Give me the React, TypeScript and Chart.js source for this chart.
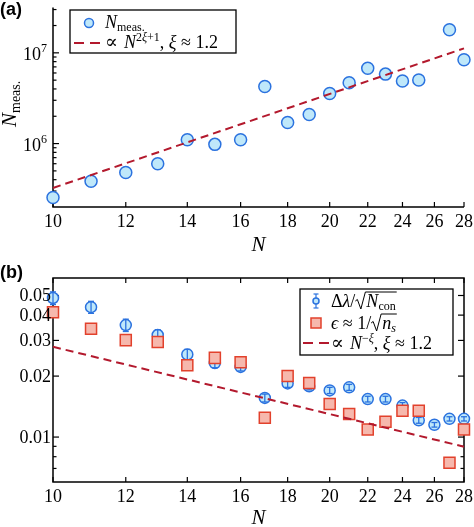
import { useEffect, useRef } from "react";
import { Chart, registerables } from "chart.js";

Chart.register(...registerables);

const W = 474;
const H = 527;
const SERIF = '"Liberation Serif", "DejaVu Serif", serif';
const SANS = '"Liberation Sans", Arial, sans-serif';

const BLUE_EDGE = "#2b72df";
const BLUE_FILL = "#bfe8fa";
const RED_EDGE = "#e2412c";
const RED_FILL = "#f6b8ad";
const FIT_COLOR = "#b3192d";

// ---- panel (a): number of measurements vs system size ----
const N_A = [10, 11, 12, 13, 14, 15, 16, 17, 18, 19, 20, 21, 22, 23, 24, 25, 27, 28];
const N_MEAS = [
  2.54e5, 3.85e5, 4.8e5, 6.0e5, 1.1e6, 9.8e5, 1.1e6, 4.25e6, 1.71e6, 2.09e6,
  3.57e6, 4.68e6, 6.76e6, 5.83e6, 4.9e6, 5.03e6, 1.8e7, 8.4e6,
];
const FIT_N = [10, 28];
const FIT_A = [3.24e5, 1.12e7];
const X_TICKS = [10, 12, 14, 16, 18, 20, 22, 24, 26, 28];
const Y_MAJOR_A = [1e6, 1e7];
const Y_EXP_A = ["6", "7"];
const Y_MINOR_A = [
  3e5, 4e5, 5e5, 6e5, 7e5, 8e5, 9e5, 2e6, 3e6, 4e6, 5e6, 6e6, 7e6, 8e6, 9e6, 2e7, 3e7,
];

// ---- panel (b): errors vs system size ----
const N_B = [10, 11, 12, 13, 14, 15, 16, 17, 18, 19, 20, 21, 22, 23, 24, 25, 26, 27, 28];
const DL = [
  0.0486, 0.0438, 0.0357, 0.0319, 0.0256, 0.0232, 0.0222, 0.0156, 0.0184, 0.0178,
  0.017, 0.0176, 0.0154, 0.0154, 0.0143, 0.0121, 0.0115, 0.0123, 0.0123,
];
const DL_ERR = [
  0.0035, 0.003, 0.0025, 0.002, 0.0015, 0.0012, 0.001, 0.0007, 0.0008, 0.0007,
  0.0006, 0.0006, 0.0005, 0.0005, 0.0005, 0.0004, 0.0003, 0.0003, 0.0003,
];
const N_EPS = [10, 11, 12, 13, 14, 15, 16, 17, 18, 19, 20, 21, 22, 23, 24, 25, 27, 28];
const EPS = [
  0.0413, 0.0343, 0.0301, 0.0295, 0.0226, 0.0246, 0.0234, 0.01245, 0.02, 0.0185,
  0.01455, 0.013, 0.0109, 0.0119, 0.0135, 0.0135, 0.00747, 0.0109,
];
const FIT_B = [0.0279, 0.00896];
const Y_LABELS_B = [0.01, 0.02, 0.03, 0.04, 0.05];
const Y_MINOR_B = [0.007, 0.008, 0.009];

type Run = { t: string; it?: boolean; sz?: number; dy?: number; fam?: string };

function runFont(r: Run) {
  return `${r.it ? "italic " : ""}${r.sz ?? 18}px ${r.fam ?? SERIF}`;
}

function runsWidth(ctx: CanvasRenderingContext2D, runs: Run[]) {
  let w = 0;
  for (const r of runs) {
    ctx.font = runFont(r);
    w += ctx.measureText(r.t).width;
  }
  return w;
}

function drawRuns(ctx: CanvasRenderingContext2D, x: number, y: number, runs: Run[]) {
  let cx = x;
  ctx.textAlign = "left";
  ctx.textBaseline = "alphabetic";
  for (const r of runs) {
    ctx.font = runFont(r);
    ctx.fillText(r.t, cx, y + (r.dy ?? 0));
    cx += ctx.measureText(r.t).width;
  }
  return cx;
}

function drawSqrt(ctx: CanvasRenderingContext2D, x: number, y: number, runs: Run[]) {
  const w = runsWidth(ctx, runs);
  ctx.save();
  ctx.lineWidth = 1;
  ctx.strokeStyle = "#000";
  ctx.beginPath();
  ctx.moveTo(x, y - 6);
  ctx.lineTo(x + 2, y - 7.5);
  ctx.lineTo(x + 5.5, y + 2);
  ctx.lineTo(x + 10, y - 15);
  ctx.lineTo(x + 12 + w, y - 15);
  ctx.stroke();
  ctx.restore();
  return drawRuns(ctx, x + 11, y, runs);
}

// two-dash legend sample of the fit line
function dash(ctx: CanvasRenderingContext2D, x0: number, y: number) {
  ctx.save();
  ctx.strokeStyle = FIT_COLOR;
  ctx.lineWidth = 2;
  ctx.setLineDash([10, 6]);
  ctx.beginPath();
  ctx.moveTo(x0, y);
  ctx.lineTo(x0 + 26, y);
  ctx.stroke();
  ctx.restore();
}

function circle(ctx: CanvasRenderingContext2D, x: number, y: number, r: number) {
  ctx.beginPath();
  ctx.arc(x, y, r, 0, Math.PI * 2);
  ctx.fillStyle = BLUE_FILL;
  ctx.fill();
  ctx.strokeStyle = BLUE_EDGE;
  ctx.lineWidth = 1.5;
  ctx.stroke();
}

function xTickLabels(ctx: CanvasRenderingContext2D, chart: any) {
  const x = chart.scales.x;
  const a = chart.chartArea;
  ctx.fillStyle = "#000";
  ctx.font = `18px ${SERIF}`;
  ctx.textAlign = "center";
  ctx.textBaseline = "alphabetic";
  for (const v of X_TICKS) ctx.fillText(String(v), x.getPixelForValue(v), a.bottom + 20);
}

function tick(ctx: CanvasRenderingContext2D, x0: number, y0: number, x1: number, y1: number) {
  ctx.beginPath();
  ctx.moveTo(x0, y0);
  ctx.lineTo(x1, y1);
  ctx.stroke();
}

const PROP = { t: "∝ ", sz: 19, fam: '"DejaVu Serif", serif' };

const axesA = {
  id: "axesA",
  beforeDatasetsDraw(chart: any) {
    const { ctx, chartArea: a, scales } = chart;
    const { x, y } = scales;
    ctx.save();
    ctx.strokeStyle = "#000";
    ctx.lineWidth = 1.5;
    ctx.beginPath();
    ctx.moveTo(a.left, a.top);
    ctx.lineTo(a.left, a.bottom);
    ctx.lineTo(a.right, a.bottom);
    ctx.stroke();
    ctx.lineWidth = 1.2;
    for (const v of X_TICKS) {
      const px = x.getPixelForValue(v);
      tick(ctx, px, a.bottom, px, a.bottom - 5);
    }
    for (const v of Y_MAJOR_A) {
      const py = y.getPixelForValue(v);
      tick(ctx, a.left, py, a.left + 6, py);
    }
    for (const v of Y_MINOR_A) {
      const py = y.getPixelForValue(v);
      tick(ctx, a.left, py, a.left + 3.5, py);
    }
    ctx.restore();
  },
  afterDraw(chart: any) {
    const { ctx, chartArea: a, scales } = chart;
    const { y } = scales;
    ctx.save();
    xTickLabels(ctx, chart);
    // y tick labels as powers of ten
    Y_MAJOR_A.forEach((v, i) => {
      const py = y.getPixelForValue(v);
      ctx.font = `12px ${SERIF}`;
      const ew = ctx.measureText(Y_EXP_A[i]).width;
      ctx.font = `18px ${SERIF}`;
      const bw = ctx.measureText("10").width;
      const right = a.left - 6;
      ctx.textAlign = "left";
      ctx.fillText("10", right - ew - bw, py + 7);
      ctx.font = `12px ${SERIF}`;
      ctx.fillText(Y_EXP_A[i], right - ew, py - 1);
    });
    // axis titles
    ctx.font = `italic 21px ${SERIF}`;
    ctx.textAlign = "center";
    ctx.fillText("N", (a.left + a.right) / 2, 251);
    ctx.save();
    ctx.translate(16, 127);
    ctx.rotate(-Math.PI / 2);
    drawRuns(ctx, 0, 0, [
      { t: "N", it: true, sz: 21 },
      { t: "meas.", sz: 14, dy: 4 },
    ]);
    ctx.restore();
    // panel tag
    ctx.font = `bold 18px ${SANS}`;
    ctx.textAlign = "left";
    ctx.fillText("(a)", 0, 15);
    // legend
    ctx.fillStyle = "#fff";
    ctx.fillRect(70, 10, 166, 43);
    ctx.strokeStyle = "#000";
    ctx.lineWidth = 1.3;
    ctx.strokeRect(70, 10, 166, 43);
    circle(ctx, 89, 23, 4.5);
    ctx.fillStyle = "#000";
    drawRuns(ctx, 105, 28, [
      { t: "N", it: true },
      { t: "meas.", sz: 12, dy: 3 },
    ]);
    dash(ctx, 74, 43);
    ctx.fillStyle = "#000";
    drawRuns(ctx, 105, 48, [
      PROP,
      { t: "N", it: true },
      { t: "2", sz: 12, dy: -7 },
      { t: "ξ", it: true, sz: 12, dy: -7 },
      { t: "+1", sz: 12, dy: -7 },
      { t: ", " },
      { t: "ξ", it: true },
      { t: " ≈ 1.2" },
    ]);
    ctx.restore();
  },
};

const axesB = {
  id: "axesB",
  beforeDatasetsDraw(chart: any) {
    const { ctx, chartArea: a, scales } = chart;
    const { x, y } = scales;
    ctx.save();
    ctx.strokeStyle = "#000";
    ctx.lineWidth = 1.5;
    ctx.strokeRect(a.left, a.top, a.right - a.left, a.bottom - a.top);
    ctx.lineWidth = 1.2;
    for (const v of X_TICKS) {
      const px = x.getPixelForValue(v);
      tick(ctx, px, a.bottom, px, a.bottom - 5);
      tick(ctx, px, a.top, px, a.top + 5);
    }
    for (const v of Y_LABELS_B) {
      const py = y.getPixelForValue(v);
      tick(ctx, a.left, py, a.left + 6, py);
      tick(ctx, a.right, py, a.right - 6, py);
    }
    for (const v of Y_MINOR_B) {
      const py = y.getPixelForValue(v);
      tick(ctx, a.left, py, a.left + 3.5, py);
      tick(ctx, a.right, py, a.right - 3.5, py);
    }
    ctx.restore();
  },
  afterDatasetDraw(chart: any, args: any) {
    if (args.index !== 1) return;
    const { ctx, scales } = chart;
    const { x, y } = scales;
    ctx.save();
    ctx.strokeStyle = BLUE_EDGE;
    ctx.lineWidth = 1.3;
    N_B.forEach((n, i) => {
      const px = x.getPixelForValue(n);
      const top = y.getPixelForValue(DL[i] + DL_ERR[i]);
      const bot = y.getPixelForValue(DL[i] - DL_ERR[i]);
      tick(ctx, px, top, px, bot);
      tick(ctx, px - 3, top, px + 3, top);
      tick(ctx, px - 3, bot, px + 3, bot);
    });
    ctx.restore();
  },
  afterDraw(chart: any) {
    const { ctx, chartArea: a, scales } = chart;
    const { y } = scales;
    ctx.save();
    xTickLabels(ctx, chart);
    ctx.font = `18px ${SERIF}`;
    ctx.textAlign = "right";
    ctx.textBaseline = "alphabetic";
    for (const v of Y_LABELS_B) {
      ctx.fillText(v.toFixed(2), a.left - 2, y.getPixelForValue(v) + 6);
    }
    ctx.font = `italic 21px ${SERIF}`;
    ctx.textAlign = "center";
    ctx.fillText("N", (a.left + a.right) / 2, 524);
    ctx.font = `bold 18px ${SANS}`;
    ctx.textAlign = "left";
    ctx.fillText("(b)", 0, 278);
    // legend
    ctx.fillStyle = "#fff";
    ctx.fillRect(300, 289, 153, 66);
    ctx.strokeStyle = "#000";
    ctx.lineWidth = 1.3;
    ctx.strokeRect(300, 289, 153, 66);
    // error-bar marker
    ctx.strokeStyle = BLUE_EDGE;
    ctx.lineWidth = 1.2;
    tick(ctx, 316, 294, 316, 308);
    tick(ctx, 313.5, 294, 318.5, 294);
    tick(ctx, 313.5, 308, 318.5, 308);
    circle(ctx, 316, 301, 3);
    ctx.fillStyle = "#000";
    let cx = drawRuns(ctx, 331, 307, [{ t: "Δ" }, { t: "λ", it: true }, { t: "/" }]);
    drawSqrt(ctx, cx, 307, [
      { t: "N", it: true },
      { t: "con", sz: 12, dy: 3 },
    ]);
    // square marker
    ctx.fillStyle = RED_FILL;
    ctx.fillRect(311, 318, 10, 10);
    ctx.strokeStyle = RED_EDGE;
    ctx.lineWidth = 1.5;
    ctx.strokeRect(311, 318, 10, 10);
    ctx.fillStyle = "#000";
    cx = drawRuns(ctx, 331, 329, [{ t: "ϵ", it: true }, { t: " ≈ 1/" }]);
    drawSqrt(ctx, cx, 329, [
      { t: "n", it: true },
      { t: "s", it: true, sz: 12, dy: 3 },
    ]);
    dash(ctx, 303, 343);
    ctx.fillStyle = "#000";
    drawRuns(ctx, 331, 349, [
      PROP,
      { t: "N", it: true },
      { t: "−", sz: 12, dy: -7 },
      { t: "ξ", it: true, sz: 12, dy: -7 },
      { t: ", " },
      { t: "ξ", it: true },
      { t: " ≈ 1.2" },
    ]);
    ctx.restore();
  },
};

function hiddenScale(min: number, max: number) {
  return {
    type: "logarithmic" as const,
    min,
    max,
    display: true,
    ticks: { display: false },
    grid: { display: false, drawTicks: false, tickLength: 0 },
    border: { display: false },
    title: { display: false },
  };
}

function baseOptions(padding: any, yMin: number, yMax: number) {
  return {
    responsive: false,
    animation: false as const,
    devicePixelRatio: 1,
    layout: { padding },
    plugins: { legend: { display: false }, tooltip: { enabled: false } },
    events: [],
    scales: {
      x: hiddenScale(10, 28),
      y: hiddenScale(yMin, yMax),
    },
  };
}

export default function App() {
  const refA = useRef<HTMLCanvasElement>(null);
  const refB = useRef<HTMLCanvasElement>(null);

  useEffect(() => {
    const chartA = new Chart(refA.current!, {
      type: "scatter",
      data: {
        datasets: [
          {
            data: FIT_N.map((n, i) => ({ x: n, y: FIT_A[i] })),
            showLine: true,
            borderColor: FIT_COLOR,
            borderWidth: 2,
            borderDash: [8, 5],
            pointRadius: 0,
            order: 0,
            clip: false,
          } as any,
          {
            data: N_A.map((n, i) => ({ x: n, y: N_MEAS[i] })),
            pointStyle: "circle",
            pointRadius: 6,
            pointBackgroundColor: BLUE_FILL,
            pointBorderColor: BLUE_EDGE,
            pointBorderWidth: 1.5,
            order: 1,
            clip: false,
          } as any,
        ],
      },
      options: baseOptions({ left: 53, right: 10, top: 0, bottom: 320 }, 2e5, 3.16e7) as any,
      plugins: [axesA],
    });

    const chartB = new Chart(refB.current!, {
      type: "scatter",
      data: {
        datasets: [
          {
            data: FIT_N.map((n, i) => ({ x: n, y: FIT_B[i] })),
            showLine: true,
            borderColor: FIT_COLOR,
            borderWidth: 2,
            borderDash: [8, 5],
            pointRadius: 0,
            order: 0,
            clip: false,
          } as any,
          {
            data: N_B.map((n, i) => ({ x: n, y: DL[i] })),
            pointStyle: "circle",
            pointRadius: 5.5,
            pointBackgroundColor: BLUE_FILL,
            pointBorderColor: BLUE_EDGE,
            pointBorderWidth: 1.5,
            order: 2,
            clip: false,
          } as any,
          {
            data: N_EPS.map((n, i) => ({ x: n, y: EPS[i] })),
            pointStyle: "rect",
            pointRadius: 7.8,
            pointBackgroundColor: RED_FILL,
            pointBorderColor: RED_EDGE,
            pointBorderWidth: 1.5,
            order: 1,
            clip: false,
          } as any,
        ],
      },
      options: baseOptions({ left: 53, right: 10, top: 278, bottom: 45 }, 0.006, 0.061) as any,
      plugins: [axesB],
    });

    return () => {
      chartA.destroy();
      chartB.destroy();
    };
  }, []);

  const canvasStyle = { position: "absolute" as const, left: 0, top: 0 };
  return (
    <div style={{ position: "absolute", left: 0, top: 0, width: W, height: H, background: "#fff" }}>
      <canvas ref={refA} width={W} height={H} style={canvasStyle} />
      <canvas ref={refB} width={W} height={H} style={canvasStyle} />
    </div>
  );
}
